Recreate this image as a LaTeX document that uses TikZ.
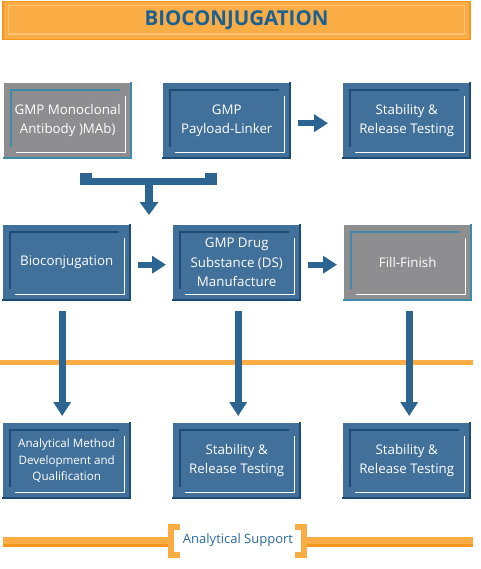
\documentclass[tikz,border=0pt]{standalone}
\usepackage{fontspec}
\setmainfont{Open Sans}
\usetikzlibrary{arrows.meta}
\definecolor{boxblue}{HTML}{41709A}
\definecolor{navy}{HTML}{1C4B73}
\definecolor{boxgray}{HTML}{8E8E91}
\definecolor{grayteal}{HTML}{3E8AA7}
\definecolor{arrowblue}{HTML}{2D6592}
\definecolor{orng}{HTML}{FAAC45}
\definecolor{orngdark}{HTML}{F7961F}
\definecolor{ornglight}{HTML}{FCC474}
\definecolor{titleblue}{HTML}{1A6192}
\definecolor{suptext}{HTML}{2A6A9A}
\newcommand\procbox[8][]{%
 \node[procnode, fill=#5, #1] (#2) at (#3,#4) {#8};
 \draw[white, line width=1.2pt] ([shift={(0.6pt,0pt)}]#2.south west) -- ([shift={(0.6pt,-0.6pt)}]#2.north west) -- ([shift={(0pt,-0.6pt)}]#2.north east);
 \draw[#7, line width=2.4pt] ([shift={(-1.2pt,0pt)}]#2.north east) -- ([shift={(-1.2pt,1.2pt)}]#2.south east) -- ([shift={(0pt,1.2pt)}]#2.south west);
 \draw[#6, line width=2pt] ([shift={(8pt,12pt)}]#2.south west) -- ([shift={(8pt,-8pt)}]#2.north west) -- ([shift={(-12pt,-8pt)}]#2.north east);
 \draw[white, line width=1.6pt] ([shift={(13pt,7pt)}]#2.south west) -- ([shift={(-7pt,7pt)}]#2.south east) -- ([shift={(-7pt,-14pt)}]#2.north east);
}
\tikzset{
 procnode/.style={minimum width=129pt, minimum height=77pt, inner sep=0pt, align=center, text=white, font=\fontsize{13.3}{19.5}\selectfont, anchor=north west},
 smalltext/.style={font=\fontsize{11.6}{16.5}\selectfont},
 harrow/.style={draw=arrowblue, line width=6pt, -{Triangle[width=17pt,length=14pt]}},
 varrow/.style={draw=arrowblue, line width=7pt, -{Triangle[width=17pt,length=14pt]}},
}
\begin{document}
\begin{tikzpicture}[x=1pt,y=-1pt]
\useasboundingbox (0,0) rectangle (480,569);
% title
\node[minimum width=467pt, minimum height=38pt, inner sep=0pt, fill=orng, draw=orngdark, line width=1.2pt,
  text=titleblue, font=\fontsize{20.5}{24}\selectfont\bfseries] (title) at (236.5,20.5) {BIOCONJUGATION};
\draw[ornglight, line width=1.2pt] ([shift={(6pt,-5pt)}]title.north west) rectangle ([shift={(-6pt,6pt)}]title.south east);
% row 1
\procbox{b1}{3}{82}{boxgray}{grayteal}{grayteal}{GMP Monoclonal\\Antibody )MAb)}
\procbox{b2}{162}{82}{boxblue}{navy}{navy}{GMP\\Payload-Linker}
\procbox{b3}{342}{82}{boxblue}{navy}{navy}{Stability \&\\Release Testing}
% row 2
\procbox{b4}{2}{224}{boxblue}{navy}{navy}{Bioconjugation}
\procbox{b5}{172}{224}{boxblue}{navy}{navy}{GMP Drug\\Substance (DS)\\Manufacture}
\procbox{b6}{343}{224}{boxgray}{grayteal}{grayteal}{Fill-Finish}
% orange middle line
\draw[orng, line width=5pt] (0,362) -- (473,362);
% row 3
\procbox[smalltext]{b7}{2}{422}{boxblue}{navy}{navy}{Analytical Method\\Development and\\Qualification}
\procbox{b8}{172}{422}{boxblue}{navy}{navy}{Stability \&\\Release Testing}
\procbox{b9}{342}{422}{boxblue}{navy}{navy}{Stability \&\\Release Testing}
% horizontal arrows
\draw[harrow] ([shift={(7pt,-2.5pt)}]b2.east) -- ([shift={(-14pt,-2.5pt)}]b3.west);
\draw[harrow] ([shift={(7pt,-2pt)}]b4.east) -- ([shift={(-6pt,-2pt)}]b5.west);
\draw[harrow] ([shift={(7pt,-2pt)}]b5.east) -- ([shift={(-6pt,-2pt)}]b6.west);
% merge bracket
\coordinate (m1) at ([shift={(18.5pt,-14pt)}]b1.south);
\coordinate (m2) at ([shift={(-15.5pt,-14pt)}]b2.south);
\coordinate (mj) at (149,181.5);
\coordinate (mend) at (149,215);
\draw[arrowblue, line width=12pt] (m1) -- ++(0,12);
\draw[arrowblue, line width=12pt] (m2) -- ++(0,12);
\draw[arrowblue, line width=7pt] ([xshift=-6pt,yshift=-8.5pt]m1) -- ([xshift=6pt,yshift=-8.5pt]m2);
\draw[arrowblue, line width=8pt, -{Triangle[width=18pt,length=13pt]}] ([yshift=-3pt]mj) -- (mend);
% vertical arrows
\coordinate (a1) at ([shift={(-4.5pt,-10pt)}]b4.south);
\coordinate (a2) at ([shift={(1.5pt,-10pt)}]b5.south);
\coordinate (a3) at ([shift={(1.5pt,-10pt)}]b6.south);
\draw[varrow] (a1) -- ([yshift=6pt]a1 |- b7.north);
\draw[varrow] (a2) -- ([yshift=6pt]a2 |- b8.north);
\draw[varrow] (a3) -- ([yshift=6pt]a3 |- b9.north);
% analytical support
\node[text=suptext, font=\fontsize{13}{15}\selectfont, inner sep=0pt] (sup) at (238,540) {Analytical Support};
\fill[orng] (3,537) rectangle (171,547);
\fill[orngdark] (3,543.5) rectangle (171,547);
\fill[orng] (306,537) rectangle (473,547);
\fill[orngdark] (306,543.5) rectangle (473,547);
\draw[orng, line width=6pt] (180,526.5) -- (171,526.5) -- (171,554.5) -- (180,554.5);
\draw[orng, line width=6pt] (295,526.5) -- (304,526.5) -- (304,554.5) -- (295,554.5);
\end{tikzpicture}
\end{document}
